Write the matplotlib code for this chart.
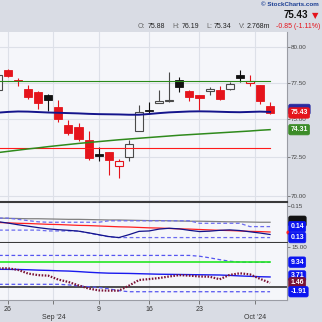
import matplotlib
matplotlib.use('Agg')
import matplotlib.pyplot as plt
from matplotlib.ticker import NullLocator, NullFormatter
from matplotlib.transforms import blended_transform_factory, offset_copy

plt.rcParams['font.family'] = ['Liberation Sans', 'DejaVu Sans']

# trading day index (0 = Aug 26)
days = list(range(-1, 27))
opens = [77.00, 78.39, 77.67, 77.07, 76.89, 76.68, 75.80, 74.63, 74.52, 73.64,
         72.70, 72.81, 71.95, 72.51, 74.19, 75.64, 76.09, 76.26, 77.70, 76.94,
         76.66, 76.94, 77.00, 77.07, 78.04, 77.47, 77.35, 75.88]
highs = [78.15, 78.45, 77.81, 77.35, 76.96, 76.75, 76.32, 74.97, 74.74, 74.19,
         73.16, 72.85, 72.38, 73.64, 75.98, 76.20, 77.00, 78.27, 77.93, 77.00,
         76.66, 77.23, 77.28, 77.58, 78.39, 78.04, 77.35, 76.19]
lows = [76.95, 77.90, 77.28, 76.37, 75.69, 75.59, 74.85, 73.97, 73.53, 72.34,
        72.23, 71.37, 71.16, 72.23, 74.19, 75.42, 76.09, 76.20, 76.89, 76.27,
        75.64, 76.64, 76.32, 77.00, 77.58, 77.28, 76.03, 75.34]
closes = [78.04, 77.97, 77.65, 76.50, 76.13, 76.32, 75.01, 74.12, 73.68, 72.45,
          72.55, 72.34, 72.23, 73.36, 75.48, 75.53, 76.27, 76.28, 77.19, 76.54,
          76.48, 77.09, 76.39, 77.42, 77.81, 77.65, 76.27, 75.43]

ma_short = [75.45, 75.50, 75.53, 75.52, 75.49, 75.46, 75.44, 75.42, 75.40, 75.37,
            75.35, 75.34, 75.33, 75.31, 75.31, 75.36, 75.42, 75.47, 75.50, 75.53,
            75.54, 75.53, 75.51, 75.49, 75.48, 75.50, 75.52, 75.50]
ma_long = [72.80, 72.88, 72.96, 73.04, 73.11, 73.19, 73.26, 73.33, 73.40, 73.46,
           73.52, 73.58, 73.64, 73.69, 73.74, 73.79, 73.84, 73.89, 73.94, 73.98,
           74.02, 74.06, 74.10, 74.14, 74.18, 74.22, 74.27, 74.31]
resistance = 77.63
support = 73.10

# middle panel
p2_gray = [0.1442, 0.1441, 0.1440, 0.1439, 0.1439, 0.1438, 0.1437, 0.1436, 0.1436, 0.1435,
           0.1434, 0.1433, 0.1433, 0.1432, 0.1431, 0.1430, 0.1430, 0.1429, 0.1428, 0.1427,
           0.1427, 0.1426, 0.1425, 0.1424, 0.1424, 0.1423, 0.1422, 0.1422]
p2_upper = [0.1442, 0.1442, 0.1436, 0.1430, 0.1424, 0.1422, 0.1422, 0.1422, 0.1422, 0.1422,
            0.1422, 0.1429, 0.1429, 0.1429, 0.1429, 0.1429, 0.1429, 0.1429, 0.1429, 0.1429,
            0.1417, 0.1417, 0.1417, 0.1417, 0.1417, 0.1401, 0.1401, 0.1401]
p2_red = [0.1421, 0.1419, 0.1417, 0.1416, 0.1414, 0.1412, 0.1411, 0.1409, 0.1407, 0.1406,
          0.1404, 0.1402, 0.1400, 0.1399, 0.1397, 0.1395, 0.1394, 0.1392, 0.1390, 0.1389,
          0.1387, 0.1385, 0.1383, 0.1382, 0.1380, 0.1378, 0.1377, 0.1375]
p2_navy = [0.1425, 0.1418, 0.1410, 0.1403, 0.1396, 0.1390, 0.1386, 0.1383, 0.1379, 0.1371,
           0.1362, 0.1353, 0.1348, 0.1362, 0.1378, 0.1380, 0.1389, 0.1393, 0.1390, 0.1383,
           0.1377, 0.1379, 0.1383, 0.1385, 0.1382, 0.1376, 0.1370, 0.1363]
p2_lower = [0.1384, 0.1384, 0.1384, 0.1384, 0.1384, 0.1380, 0.1380, 0.1380, 0.1380, 0.1370,
            0.1360, 0.1352, 0.1348, 0.1348, 0.1348, 0.1348, 0.1348, 0.1348, 0.1348, 0.1348,
            0.1348, 0.1348, 0.1348, 0.1348, 0.1348, 0.1348, 0.1348, 0.1348]

# bottom panel
p3_upper = [11.9, 11.9, 11.9, 11.9, 11.9, 11.9, 11.9, 11.9, 11.9, 11.9,
            11.9, 11.9, 11.9, 11.9, 11.9, 11.9, 11.9, 11.9, 11.9, 11.9,
            11.6, 11.0, 10.3, 9.7, 9.35, 9.3, 9.3, 9.3]
p3_green = [9.34] * 28
p3_blue = [6.62, 6.60, 6.55, 6.45, 6.30, 6.20, 6.05, 5.95, 5.75, 5.50,
           5.30, 5.15, 5.10, 5.05, 4.95, 4.85, 4.75, 4.70, 4.65, 4.60,
           4.55, 4.50, 4.45, 4.30, 4.10, 3.95, 3.80, 3.71]
p3_dots = [7.0, 7.0, 6.4, 5.0, 4.4, 4.2, 2.7, 1.8, 0.5, -0.7,
           -1.4, -1.5, -1.5, 0.4, 2.55, 2.9, 3.3, 3.9, 4.4, 4.2,
           3.9, 3.8, 2.85, 4.5, 5.1, 4.7, 3.0, 1.46]
p3_lower = [0.91, 0.91, 0.91, 0.91, 0.91, 0.91, 0.91, 0.7, 0.3, 0.0,
            -0.3, -0.8, -1.5, -1.91, -1.91, -1.91, -1.91, -1.91, -1.91, -1.91,
            -1.91, -1.91, -1.91, -1.91, -1.91, -1.91, -1.91, -1.91]

date_ticks = [0, 4.5, 9, 14, 19, 24.5]
date_labels = ['26', "\nSep '24", '9', '16', '23', "\nOct '24"]

RED = '#e5141c'
BG = '#f5f6fa'
GRID = '#dde0e8'
W = H = 322

fig = plt.figure(figsize=(3.22, 3.22), dpi=100, facecolor='#d9dce4')


def box(x0, y0, x1, y1):
    return [x0 / W, 1 - y1 / H, (x1 - x0) / W, (y1 - y0) / H]


ax1 = fig.add_axes(box(0, 32, 287, 202))
ax2 = fig.add_axes(box(0, 202, 287, 243), sharex=ax1)
ax3 = fig.add_axes(box(0, 243, 287, 300), sharex=ax1)

for ax in (ax1, ax2, ax3):
    ax.set_facecolor(BG)
    ax.yaxis.tick_right()
    ax.spines['left'].set_visible(False)
    ax.spines['right'].set_color('#9a9ca4')
    ax.spines['right'].set_linewidth(0.8)
    ax.tick_params(axis='y', labelsize=4.5, length=2, width=0.5, pad=1,
                   colors='#555555', labelcolor='#444444')
    ax.tick_params(axis='x', length=0)
    ax.set_xticks(date_ticks)
    ax.grid(axis='x', color=GRID, lw=0.8)
    ax.set_axisbelow(True)

ax1.spines['top'].set_visible(False)
ax1.spines['bottom'].set_visible(False)
ax2.spines['top'].set_color('#3a3a3a')
ax2.spines['top'].set_linewidth(1.5)
ax2.spines['bottom'].set_color('#3a3a3a')
ax2.spines['bottom'].set_linewidth(1.5)
ax3.spines['top'].set_visible(False)
ax3.spines['bottom'].set_color('#9a9ca4')
ax3.spines['bottom'].set_linewidth(0.8)

ax1.set_xlim(-0.79, 27.68)

# ---- price panel ----
ax1.set_yscale('log')
ax1.set_ylim(69.65, 81.10)
ax1.set_yticks([70, 72.5, 75, 77.5, 80])
ax1.set_yticklabels(['70.00', '72.50', '75.00', '77.50', '80.00'])
ax1.yaxis.set_minor_locator(NullLocator())
ax1.yaxis.set_minor_formatter(NullFormatter())
ax1.grid(axis='y', color=GRID, lw=0.8)
ax1.tick_params(axis='x', labelbottom=False)

prev = None
for d, o, h, l, c in zip(days, opens, highs, lows, closes):
    up_day = prev is None or c >= prev
    col = '#111111' if up_day else RED
    if c > o:
        if up_day:
            col = '#4a4a4a'
        ax1.vlines(d, l, h, color=col, lw=0.8, zorder=2)
        ax1.bar(d, c - o, bottom=o, width=0.8, facecolor=BG, edgecolor=col,
                lw=0.8, zorder=3)
    else:
        ax1.vlines(d, l, h, color=col, lw=0.8, zorder=2)
        ax1.bar(d, max(o - c, 0.02), bottom=c, width=0.8, facecolor=col,
                edgecolor=col, lw=0.6, zorder=3)
    prev = c

ax1.plot([days[0], days[-1]], [resistance, resistance], color='#2a8a1a', lw=0.8, zorder=4)
ax1.plot([days[0], days[-1]], [support, support], color='#ff1a1a', lw=0.8, zorder=4)
ax1.plot(days, ma_long, color='#2f8a1c', lw=1.1, zorder=4)
ax1.plot(days, ma_short, color='#14148c', lw=1.4, zorder=4)

# ---- middle panel ----
ax2.set_ylim(0.13218, 0.15198)
ax2.set_yticks([0.15])
ax2.set_yticklabels(['0.15'])
ax2.tick_params(axis='x', labelbottom=False)
ax2.plot(days, p2_gray, color='#808080', lw=0.9)
ax2.plot(days, p2_upper, color='#6b6bef', lw=0.9, ls=(0, (3, 2)))
ax2.plot(days, p2_lower, color='#6b6bef', lw=0.9, ls=(0, (3, 2)))
ax2.plot(days, p2_red, color='#ff2020', lw=0.9)
ax2.plot(days, p2_navy, color='#12128a', lw=0.9)

# ---- bottom panel ----
ax3.set_ylim(-5.06, 16.63)
ax3.set_yticks([15])
ax3.set_yticklabels(['15.00'])
ax3.axhline(0, color='#404040', lw=1.3, zorder=1)
ax3.plot(days, p3_upper, color='#5555f0', lw=0.9, ls=(0, (3, 2)))
ax3.plot(days, p3_lower, color='#5555f0', lw=0.9, ls=(0, (3, 2)))
ax3.plot(days, p3_green, color='#22e622', lw=1.2)
ax3.plot(days, p3_blue, color='#1a1aee', lw=1.0)
ax3.plot(days, p3_dots, color='#7a1235', lw=1.6, ls=(0, (0.7, 0.7)))
ax3.set_xticklabels(date_labels)
ax3.tick_params(axis='x', length=3, width=0.6, color='#666666', labelsize=5,
                labelcolor='#333333', pad=1.5)


# ---- value tags on the right ----
def tag(ax, y, text, fc, dy=0):
    tr = blended_transform_factory(ax.transAxes, ax.transData)
    tr = offset_copy(tr, fig=fig, x=0, y=-dy, units='dots')
    ax.text(1.012, y, text, transform=tr, ha='left', va='center', fontsize=5,
            fontweight='bold', color='white', clip_on=False, zorder=10,
            bbox=dict(boxstyle='round,pad=0.25', fc=fc, ec=fc, lw=0.5))


# tags that sit mostly hidden behind another tag: box only
blank = ' ' * 9
tag(ax1, ma_short[-1], blank, '#2a2aa0', dy=-2.5)
tag(ax1, closes[-1], '%.2f' % closes[-1], RED)
tag(ax1, ma_long[-1], '%.2f' % ma_long[-1], '#3c8c28')

tag(ax2, p2_gray[-1], ' ' * 7, '#111111', dy=-1)
tag(ax2, p2_upper[-1], '0.14', '#0a14f0')
tag(ax2, p2_lower[-1], '0.13', '#0a14f0')
tr2 = blended_transform_factory(ax2.transAxes, ax2.transData)
ax2.plot([1.003], [p2_red[-1]], 'o', ms=2, color='#ff2020', transform=tr2,
         clip_on=False, zorder=9)

tag(ax3, p3_green[-1], '%.2f' % p3_green[-1], '#0a14f0')
tag(ax3, p3_blue[-1], '%.2f' % p3_blue[-1], '#0a14f0', dy=-1)
tag(ax3, p3_dots[-1], '%.2f' % p3_dots[-1], '#7a1235')
tag(ax3, p3_lower[-1], '%.2f' % p3_lower[-1], '#0a14f0')

# ---- header ----
def hdr(x, y, s, **kw):
    fig.text(x / W, 1 - y / H, s, va='center', **kw)


hdr(319, 5, '\u00a9 StockCharts.com', ha='right', fontsize=4.5, color='#1c3f94',
    fontweight='bold')
hdr(308, 15.5, '75.43', ha='right', fontsize=7, fontweight='bold', color='#111111')
hdr(318, 15.5, '\u25bc', ha='right', fontsize=6, color=RED,
    family=['DejaVu Sans'])
row = [(138, 'O:', '#666666'), (148, '75.88', '#222222'),
       (172.5, 'H:', '#666666'), (181.5, '76.19', '#222222'),
       (206.5, 'L:', '#666666'), (213.5, '75.34', '#222222'),
       (239, 'V:', '#666666'), (247, '2.768m', '#222222'),
       (276, '-0.85 (-1.11%)', RED)]
for x, s, col in row:
    hdr(x, 26.5, s, ha='left', fontsize=5, color=col)

fig.savefig('out.png', dpi=100, facecolor=fig.get_facecolor())
